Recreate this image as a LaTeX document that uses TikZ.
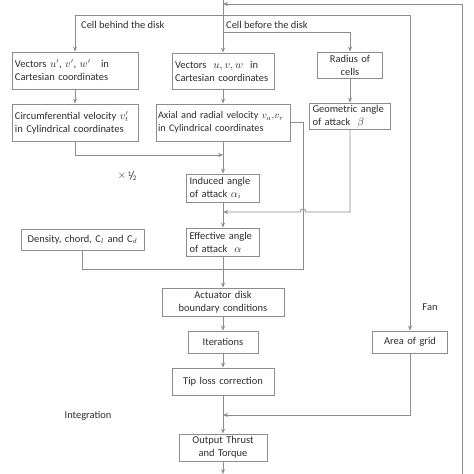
\documentclass[tikz,border=0pt]{standalone}
\usepackage{fontspec}
\setmainfont{Carlito}
\usetikzlibrary{arrows.meta}
\definecolor{linegray}{RGB}{140,140,140}
\definecolor{textgray}{RGB}{45,45,45}
\tikzset{
  box/.style={draw=linegray, line width=0.8bp, fill=white, text=textgray, inner xsep=3bp, inner ysep=1bp, align=left, font=\fontsize{10.5}{13}\selectfont},
  cbox/.style={box, align=center},
  wire/.style={draw=linegray, line width=0.8bp},
  flow/.style={wire, -{Stealth[length=5bp,width=4bp]}},
  lbl/.style={text=textgray, inner sep=1bp, font=\fontsize{10.5}{12}\selectfont}
}
\begin{document}
\begin{tikzpicture}[x=1bp, y=-1bp]
          \useasboundingbox (0,0) rectangle (474,474);
          \node[box, text width=120bp, minimum height=37bp] (vecb) at (75,70.5) {Vectors $u'$, $v'$, $w'$ \ \ in\\Cartesian coordinates};
          \node[box, text width=120bp, minimum height=37bp] (circ) at (75,122.5) {Circumferential velocity $v_t'$\\in Cylindrical coordinates};
          \node[box, text width=96bp, minimum height=36bp] (vecf) at (223,71) {Vectors \ $u,v,w$ \ in\\Cartesian coordinates};
          \node[box, inner xsep=2bp, text width=130bp, minimum height=37bp, font=\fontsize{10.2}{13}\selectfont] (axial) at (223,122.5) {Axial and radial velocity $v_a,\!v_r$\\in Cylindrical coordinates};
          \node[cbox, text width=59bp, minimum height=26bp] (rad) at (350,65) {Radius of\\cells};
          \node[box, text width=75bp, minimum height=26bp] (geom) at (350,116) {Geometric angle\\of attack \ $\beta$};
          \node[box, text width=67bp, minimum height=28bp] (ind) at (223,188) {Induced angle\\of attack $\alpha_i$};
          \node[box, text width=67bp, minimum height=28bp] (eff) at (223,242) {Effective angle\\of attack \ $\alpha$};
          \node[cbox, text width=117bp, minimum height=21bp] (dens) at (82.5,239.5) {Density, chord, C$_l$ and C$_d$};
          \node[cbox, text width=116bp, minimum height=28bp] (act) at (223,302) {Actuator disk\\boundary conditions};
          \node[cbox, text width=64bp, minimum height=22bp] (iter) at (223,342) {Iterations};
          \node[cbox, text width=96bp, minimum height=27bp] (tip) at (223,381.5) {Tip loss correction};
          \node[cbox, text width=82bp, minimum height=27bp] (outp) at (223,447.5) {Output Thrust\\and Torque};
          \node[cbox, text width=69bp, minimum height=22bp] (grid) at (410,342) {Area of grid};
          \node[lbl, anchor=west] (behind) at (80,25) {Cell behind the disk};
          \node[lbl, anchor=west] (before) at (225,25) {Cell before the disk};
          \node[lbl] (half) at (127,176) {$\times$\,\raisebox{2.5bp}{\scriptsize 1}\kern-1.5bp\raisebox{-1bp}{\large/}\kern-1.5bp\raisebox{-2bp}{\scriptsize 2}};
          \node[lbl] (fan) at (430,307) {Fan};
          \node[lbl] (integ) at (88,416) {Integration};
          \coordinate (top) at (223,0);
          \coordinate (fb) at (223,4);
          \coordinate (sp) at (223,15);
          \coordinate (sp2) at (223,32);
          \coordinate (m1) at (223,155);
          \coordinate (hop) at (306,212);
          \coordinate (m2) at (223,212);
          \coordinate (ac) at (303,269);
          \coordinate (m3) at (223,269);
          \coordinate (m4) at (223,415);
          \coordinate (bot) at (223,474);
          \coordinate (rb) at (462,474);
          \coordinate (rt) at (462,4);
          \draw [wire] (top) -- (sp);
          \draw [flow] (sp) -| (vecb);
          \draw [flow] (sp) -- (vecf);
          \draw [flow] (sp) -| (grid);
          \draw [flow] (sp2) -| (rad);
          \draw [flow] (vecb) -- (circ);
          \draw [flow] (vecf) -- (axial);
          \draw [flow] (circ.south) |- (m1);
          \draw [flow] (axial) -- (ind);
          \draw [flow] (rad) -- (geom);
          \draw [flow] (geom.south) |- (hop) arc [start angle=0, end angle=180, radius=3bp] -- (m2);
          \draw [flow] (ind) -- (eff);
          \draw [wire] (axial.east) -| (ac) -- (m3);
          \draw [wire] (dens.south) |- (m3);
          \draw [flow] (eff) -- (act);
          \draw [flow] (act) -- (iter);
          \draw [flow] (iter) -- (tip);
          \draw [flow] (tip) -- (outp);
          \draw [flow] (grid.south) |- (m4);
          \draw [flow] (outp) -- (bot);
          \draw [flow] (rb) -- (rt) -- (fb);
\end{tikzpicture}
\end{document}
